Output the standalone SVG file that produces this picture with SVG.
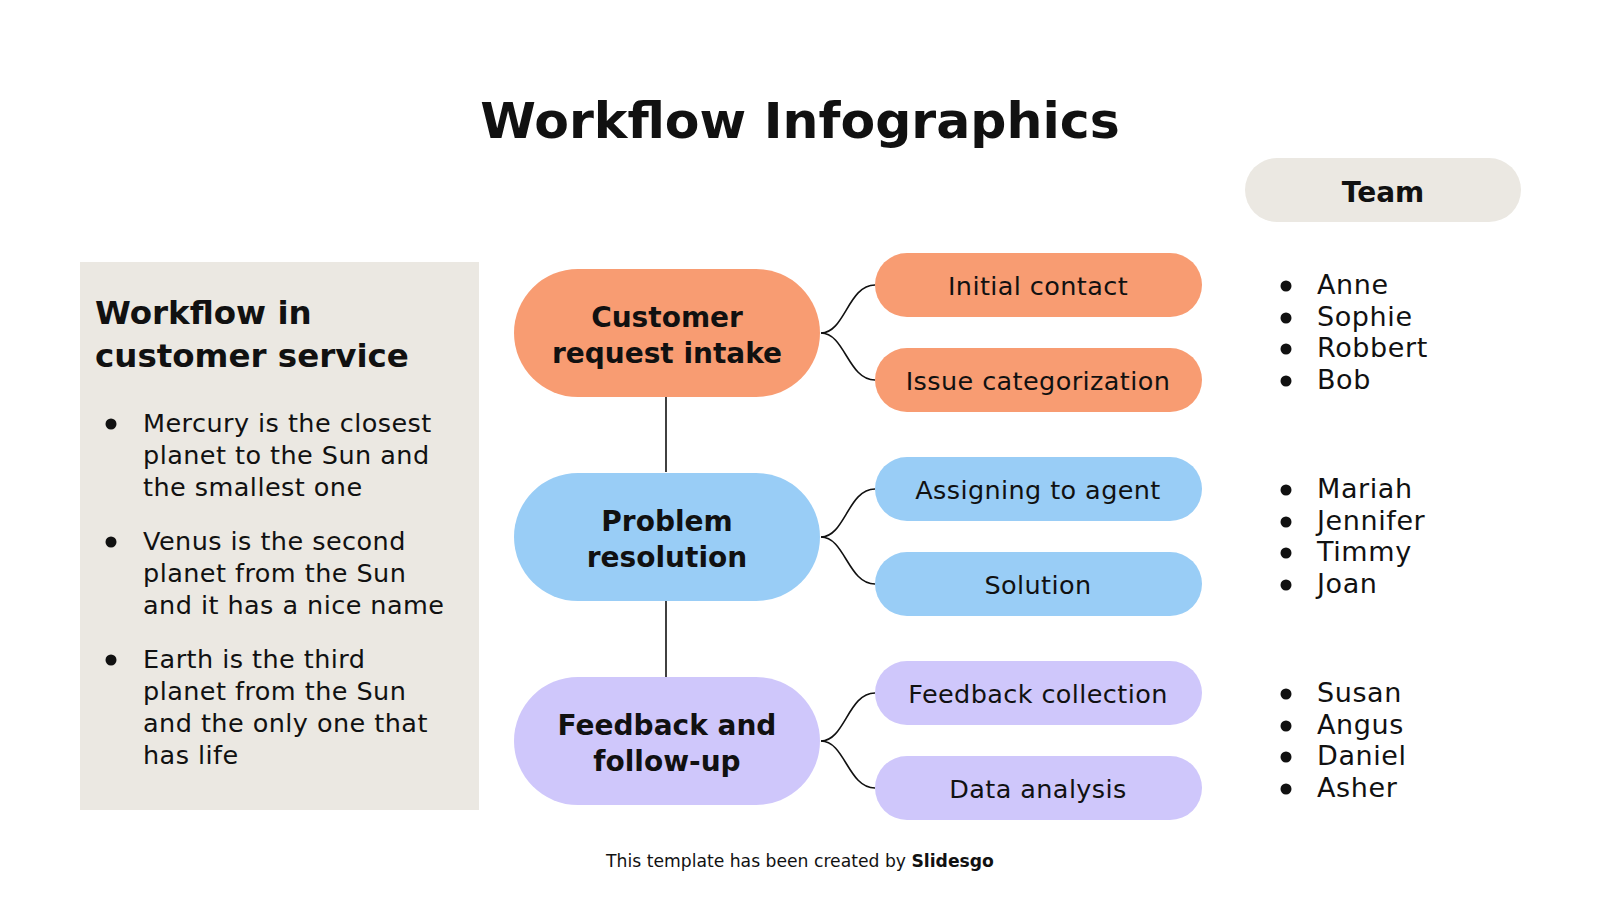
<svg xmlns="http://www.w3.org/2000/svg" width="1600" height="900" viewBox="0 0 1600 900">
<style>
text{font-family:"DejaVu Sans","Liberation Sans",sans-serif;fill:#111111}
.title{font-size:50.5px;font-weight:700;text-anchor:middle}
.h{font-size:32.5px;font-weight:700}
.body{font-size:25.5px;letter-spacing:0.45px}
.main{font-size:28px;font-weight:700;text-anchor:middle}
.sub{font-size:25.5px;letter-spacing:0.4px;text-anchor:middle}
.team{font-size:28px;font-weight:700;text-anchor:middle}
.name{font-size:27px;letter-spacing:0.6px}
.foot{font-size:17.2px;text-anchor:middle}
.conn{fill:none;stroke:#111111;stroke-width:1.6}
.dot{fill:#111111}
.o{fill:#F89C72}.b{fill:#99CDF6}.p{fill:#CFC7FB}.g{fill:#EBE8E2}
</style>
<text class="title" x="800" y="138">Workflow Infographics</text>

<g id="info-panel">
<rect class="g" x="80" y="262" width="399" height="548"/>
<text class="h" x="95" y="324">Workflow in</text>
<text class="h" x="95" y="367">customer service</text>
<circle class="dot" cx="111" cy="424" r="5.5"/>
<text class="body" x="143" y="432">Mercury is the closest</text>
<text class="body" x="143" y="464">planet to the Sun and</text>
<text class="body" x="143" y="496">the smallest one</text>
<circle class="dot" cx="111" cy="542" r="5.5"/>
<text class="body" x="143" y="550">Venus is the second</text>
<text class="body" x="143" y="582">planet from the Sun</text>
<text class="body" x="143" y="614">and it has a nice name</text>
<circle class="dot" cx="111" cy="660" r="5.5"/>
<text class="body" x="143" y="668">Earth is the third</text>
<text class="body" x="143" y="700">planet from the Sun</text>
<text class="body" x="143" y="732">and the only one that</text>
<text class="body" x="143" y="764">has life</text>
</g>

<g id="connectors">
<line class="conn" x1="666" y1="397" x2="666" y2="472"/>
<line class="conn" x1="666" y1="601" x2="666" y2="677"/>
<path class="conn" d="M821,333 C845,333 848,285 875,285"/>
<path class="conn" d="M821,333 C845,333 848,380 875,380"/>
<path class="conn" d="M821,537 C845,537 848,489 875,489"/>
<path class="conn" d="M821,537 C845,537 848,584 875,584"/>
<path class="conn" d="M821,741 C845,741 848,693 875,693"/>
<path class="conn" d="M821,741 C845,741 848,788 875,788"/>
</g>

<g id="node-intake">
<rect class="o" x="514" y="269" width="306" height="128" rx="64"/>
<text class="main" x="667" y="327">Customer</text>
<text class="main" x="667" y="363">request intake</text>
</g>
<g id="node-resolution">
<rect class="b" x="514" y="473" width="306" height="128" rx="64"/>
<text class="main" x="667" y="531">Problem</text>
<text class="main" x="667" y="567">resolution</text>
</g>
<g id="node-feedback">
<rect class="p" x="514" y="677" width="306" height="128" rx="64"/>
<text class="main" x="667" y="735">Feedback and</text>
<text class="main" x="667" y="771">follow-up</text>
</g>

<g id="sub-initial"><rect class="o" x="875" y="253" width="327" height="64" rx="32"/><text class="sub" x="1038" y="295">Initial contact</text></g>
<g id="sub-issue"><rect class="o" x="875" y="348" width="327" height="64" rx="32"/><text class="sub" x="1038" y="390">Issue categorization</text></g>
<g id="sub-assign"><rect class="b" x="875" y="457" width="327" height="64" rx="32"/><text class="sub" x="1038" y="499">Assigning to agent</text></g>
<g id="sub-solution"><rect class="b" x="875" y="552" width="327" height="64" rx="32"/><text class="sub" x="1038" y="594">Solution</text></g>
<g id="sub-collect"><rect class="p" x="875" y="661" width="327" height="64" rx="32"/><text class="sub" x="1038" y="703">Feedback collection</text></g>
<g id="sub-data"><rect class="p" x="875" y="756" width="327" height="64" rx="32"/><text class="sub" x="1038" y="798">Data analysis</text></g>

<g id="team-header">
<rect class="g" x="1245" y="158" width="276" height="64" rx="32"/>
<text class="team" x="1383" y="202">Team</text>
</g>

<g id="team-1">
<circle class="dot" cx="1286" cy="286" r="5.5"/><text class="name" x="1317" y="294">Anne</text>
<circle class="dot" cx="1286" cy="318" r="5.5"/><text class="name" x="1317" y="326">Sophie</text>
<circle class="dot" cx="1286" cy="349" r="5.5"/><text class="name" x="1317" y="357">Robbert</text>
<circle class="dot" cx="1286" cy="381" r="5.5"/><text class="name" x="1317" y="389">Bob</text>
</g>
<g id="team-2">
<circle class="dot" cx="1286" cy="490" r="5.5"/><text class="name" x="1317" y="498">Mariah</text>
<circle class="dot" cx="1286" cy="522" r="5.5"/><text class="name" x="1317" y="530">Jennifer</text>
<circle class="dot" cx="1286" cy="553" r="5.5"/><text class="name" x="1317" y="561">Timmy</text>
<circle class="dot" cx="1286" cy="585" r="5.5"/><text class="name" x="1317" y="593">Joan</text>
</g>
<g id="team-3">
<circle class="dot" cx="1286" cy="694" r="5.5"/><text class="name" x="1317" y="702">Susan</text>
<circle class="dot" cx="1286" cy="726" r="5.5"/><text class="name" x="1317" y="734">Angus</text>
<circle class="dot" cx="1286" cy="757" r="5.5"/><text class="name" x="1317" y="765">Daniel</text>
<circle class="dot" cx="1286" cy="789" r="5.5"/><text class="name" x="1317" y="797">Asher</text>
</g>

<text class="foot" x="800" y="867">This template has been created by <tspan font-weight="700">Slidesgo</tspan></text>
</svg>
